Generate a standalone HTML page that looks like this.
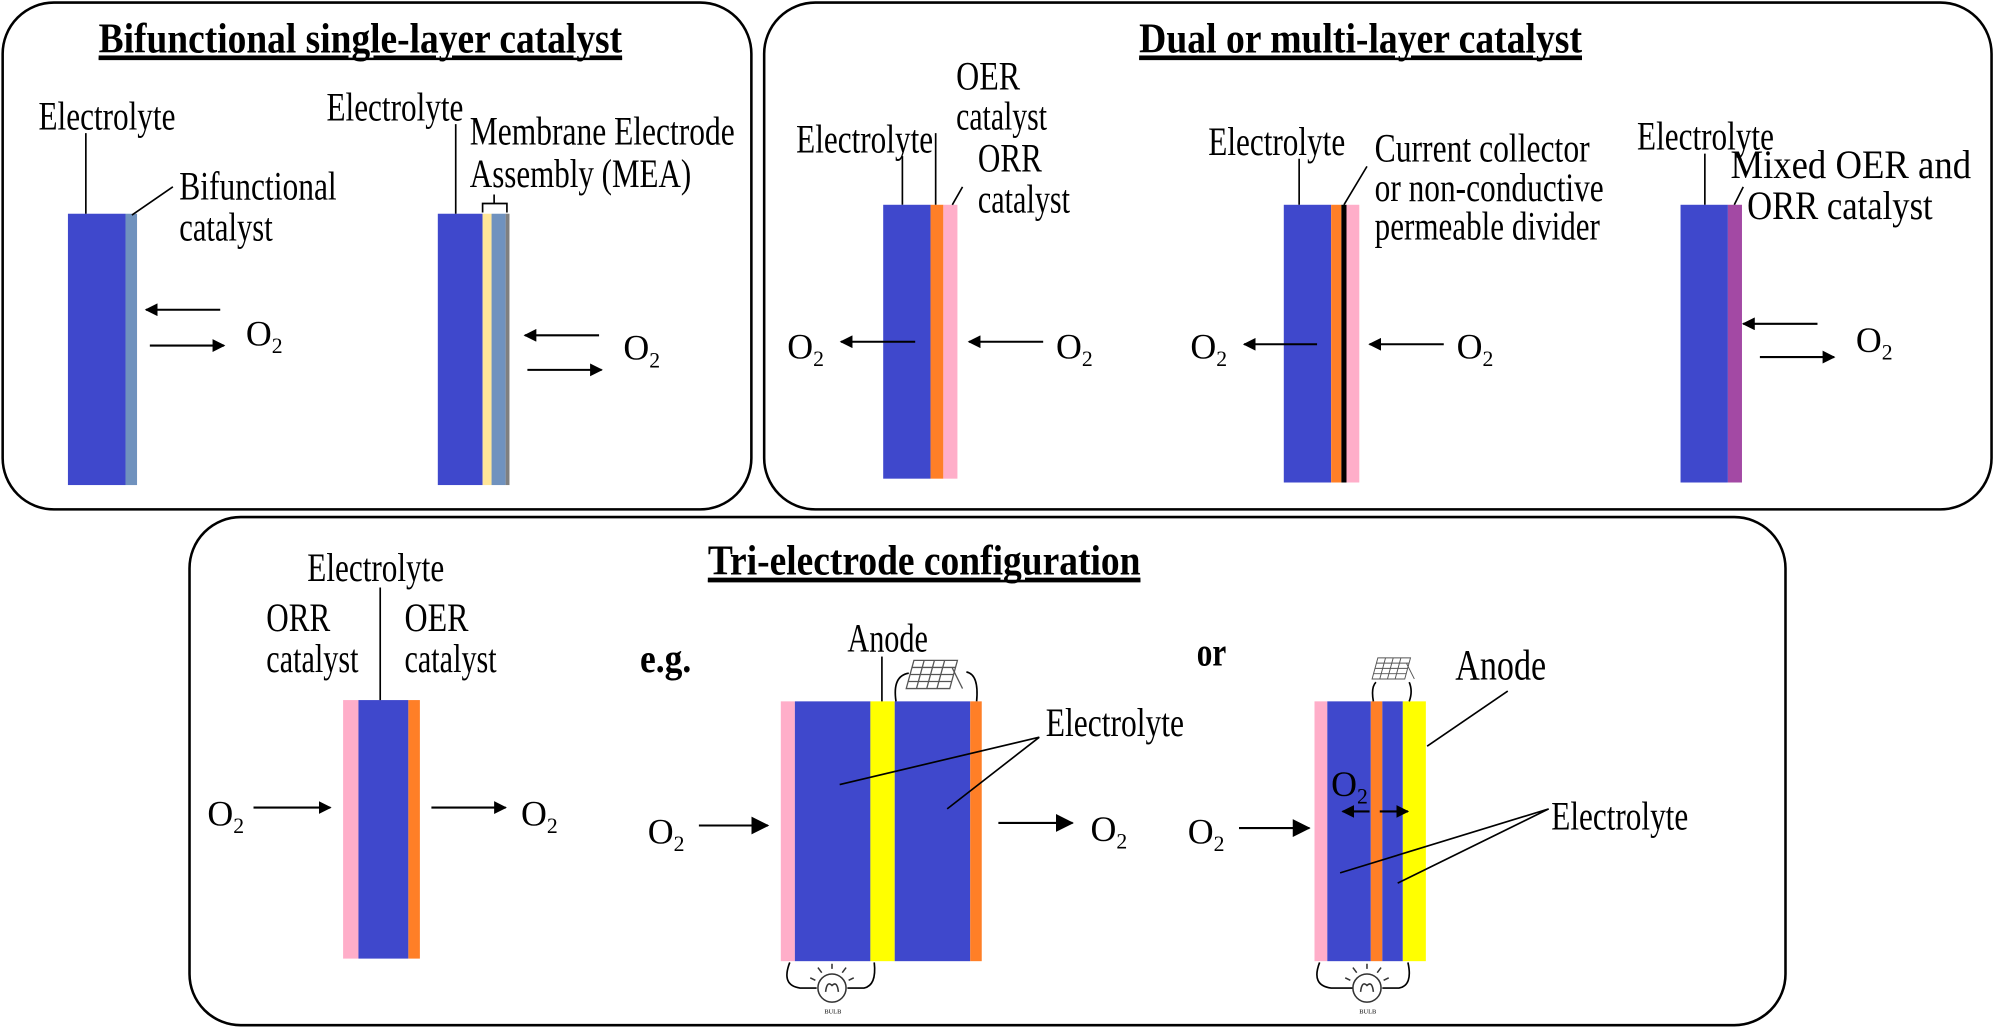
<!DOCTYPE html>
<html><head><meta charset="utf-8"><style>
html,body{margin:0;padding:0;background:#fff}
svg{display:block}
</style></head><body>
<svg width="2007" height="1029" viewBox="0 0 1568 804" xmlns="http://www.w3.org/2000/svg" font-family="Liberation Serif, serif" font-size="31">
<defs>
<marker id="a" markerWidth="10" markerHeight="10" refX="9" refY="5" orient="auto" markerUnits="userSpaceOnUse" viewBox="0 0 10 10"><path d="M0,0 L10,5 L0,10z" fill="#000"/></marker>
<marker id="b" markerWidth="14" markerHeight="14" refX="13" refY="7" orient="auto" markerUnits="userSpaceOnUse" viewBox="0 0 14 14"><path d="M0,0 L14,7 L0,14z" fill="#000"/></marker>
<g id="sol" fill="none" stroke="#555" stroke-width="1">
<path d="M6,0 L40,0 L34,22 L0,22z"/>
<path d="M14,0 L8,22 M22,0 L16,22 M30,0 L24,22 M4.5,5.5 L38.5,5.5 M3,11 L37,11 M1.5,16.5 L35.5,16.5 M36,6 L44,22"/>
</g>
<g id="bulb" fill="none" stroke="#333" stroke-width="1.2">
<circle cx="0" cy="0" r="11"/>
<path d="M-5,3 Q-4,-6 0,-2 Q4,-6 5,3"/>
<path d="M0,-15 L0,-19 M-8,-12 L-11,-16 M8,-12 L11,-16 M-13,-6 L-17,-8 M13,-6 L17,-8"/>
</g>
</defs>
<g fill="none" stroke="#000" stroke-width="2">
<rect x="2" y="2" width="585" height="396" rx="40"/>
<rect x="597" y="2" width="959" height="396" rx="40"/>
<rect x="148" y="404" width="1247" height="397" rx="40"/>
</g>
<g font-weight="bold" font-size="33" text-decoration="underline">
<text x="77" y="41" textLength="409" lengthAdjust="spacingAndGlyphs">Bifunctional single-layer catalyst</text>
<text x="890" y="41" textLength="346" lengthAdjust="spacingAndGlyphs">Dual or multi-layer catalyst</text>
<text x="553" y="449" textLength="338" lengthAdjust="spacingAndGlyphs">Tri-electrode configuration</text>
</g>
<g stroke="#000" stroke-width="2">
<line x1="77" y1="46" x2="486" y2="46"/>
<line x1="890" y1="46" x2="1236" y2="46"/>
<line x1="553" y1="454" x2="891" y2="454"/>
</g>

<!-- panel 1a -->
<rect x="53" y="167" width="45" height="212" fill="#3f48cc"/>
<rect x="98" y="167" width="9" height="212" fill="#7092be"/>
<text x="30" y="101" textLength="107" lengthAdjust="spacingAndGlyphs">Electrolyte</text>
<text x="140" y="156" textLength="123" lengthAdjust="spacingAndGlyphs">Bifunctional</text>
<text x="140" y="188" textLength="73" lengthAdjust="spacingAndGlyphs">catalyst</text>
<g stroke="#000" stroke-width="1.3" fill="none">
<path d="M67,104 L67,167 M103,168 L135,146"/>
</g>
<g stroke="#000" stroke-width="1.6" fill="none">
<path d="M172,242 L114,242" marker-end="url(#a)"/>
<path d="M117,270 L175,270" marker-end="url(#a)"/>
</g>
<text x="192" y="270" font-size="28">O<tspan font-size="17" dy="6">2</tspan></text>

<!-- panel 1b -->
<rect x="342" y="167" width="35" height="212" fill="#3f48cc"/>
<rect x="377" y="167" width="7" height="212" fill="#ffe699"/>
<rect x="384" y="167" width="11" height="212" fill="#7092be"/>
<rect x="395" y="167" width="3" height="212" fill="#7f7f7f"/>
<text x="255" y="94" textLength="107" lengthAdjust="spacingAndGlyphs">Electrolyte</text>
<text x="367" y="113" textLength="207" lengthAdjust="spacingAndGlyphs">Membrane Electrode</text>
<text x="367" y="146" textLength="173" lengthAdjust="spacingAndGlyphs">Assembly (MEA)</text>
<g stroke="#000" stroke-width="1.3" fill="none">
<path d="M356,97 L356,167 M377,166 L377,159 L396,159 L396,166 M386,159 L386,152"/>
</g>
<g stroke="#000" stroke-width="1.6" fill="none">
<path d="M468,262 L410,262" marker-end="url(#a)"/>
<path d="M412,289 L470,289" marker-end="url(#a)"/>
</g>
<text x="487" y="281" font-size="28">O<tspan font-size="17" dy="6">2</tspan></text>

<!-- panel 2a -->
<rect x="690" y="160" width="37" height="214" fill="#3f48cc"/>
<rect x="727" y="160" width="10" height="214" fill="#ff7f27"/>
<rect x="737" y="160" width="11" height="214" fill="#ffaec9"/>
<text x="747" y="70" textLength="50" lengthAdjust="spacingAndGlyphs">OER</text>
<text x="747" y="101" textLength="71" lengthAdjust="spacingAndGlyphs">catalyst</text>
<text x="622" y="119" textLength="107" lengthAdjust="spacingAndGlyphs">Electrolyte</text>
<text x="764" y="134" textLength="50" lengthAdjust="spacingAndGlyphs">ORR</text>
<text x="764" y="166" textLength="72" lengthAdjust="spacingAndGlyphs">catalyst</text>
<g stroke="#000" stroke-width="1.3" fill="none">
<path d="M705,122 L705,160 M731,104 L731,160 M744,160 L752,146"/>
</g>
<g stroke="#000" stroke-width="1.6" fill="none">
<path d="M715,267 L657,267" marker-end="url(#a)"/>
<path d="M815,267 L757,267" marker-end="url(#a)"/>
</g>
<text x="615" y="280" font-size="28">O<tspan font-size="17" dy="6">2</tspan></text>
<text x="825" y="280" font-size="28">O<tspan font-size="17" dy="6">2</tspan></text>

<!-- panel 2b -->
<rect x="1003" y="160" width="37" height="217" fill="#3f48cc"/>
<rect x="1040" y="160" width="8" height="217" fill="#ff7f27"/>
<rect x="1048" y="160" width="4" height="217" fill="#000"/>
<rect x="1052" y="160" width="10" height="217" fill="#ffaec9"/>
<text x="944" y="121" textLength="107" lengthAdjust="spacingAndGlyphs">Electrolyte</text>
<text x="1074" y="126" textLength="168" lengthAdjust="spacingAndGlyphs">Current collector</text>
<text x="1074" y="157" textLength="179" lengthAdjust="spacingAndGlyphs">or non-conductive</text>
<text x="1074" y="187" textLength="176" lengthAdjust="spacingAndGlyphs">permeable divider</text>
<g stroke="#000" stroke-width="1.3" fill="none">
<path d="M1015,124 L1015,160 M1050,160 L1068,130"/>
</g>
<g stroke="#000" stroke-width="1.6" fill="none">
<path d="M1029,269 L972,269" marker-end="url(#a)"/>
<path d="M1128,269 L1070,269" marker-end="url(#a)"/>
</g>
<text x="930" y="280" font-size="28">O<tspan font-size="17" dy="6">2</tspan></text>
<text x="1138" y="280" font-size="28">O<tspan font-size="17" dy="6">2</tspan></text>

<!-- panel 2c -->
<rect x="1313" y="160" width="37" height="217" fill="#3f48cc"/>
<rect x="1350" y="160" width="11" height="217" fill="#a349a4"/>
<text x="1279" y="117" textLength="107" lengthAdjust="spacingAndGlyphs">Electrolyte</text>
<text x="1352" y="139" textLength="188" lengthAdjust="spacingAndGlyphs">Mixed OER and</text>
<text x="1365" y="171" textLength="145" lengthAdjust="spacingAndGlyphs">ORR catalyst</text>
<g stroke="#000" stroke-width="1.3" fill="none">
<path d="M1332,120 L1332,160 M1355,160 L1362,146"/>
</g>
<g stroke="#000" stroke-width="1.6" fill="none">
<path d="M1420,253 L1362,253" marker-end="url(#a)"/>
<path d="M1375,279 L1433,279" marker-end="url(#a)"/>
</g>
<text x="1450" y="275" font-size="28">O<tspan font-size="17" dy="6">2</tspan></text>

<!-- panel 3a -->
<rect x="268" y="547" width="12" height="202" fill="#ffaec9"/>
<rect x="280" y="547" width="39" height="202" fill="#3f48cc"/>
<rect x="319" y="547" width="9" height="202" fill="#ff7f27"/>
<text x="240" y="454" textLength="107" lengthAdjust="spacingAndGlyphs">Electrolyte</text>
<text x="208" y="493" textLength="50" lengthAdjust="spacingAndGlyphs">ORR</text>
<text x="208" y="525" textLength="72" lengthAdjust="spacingAndGlyphs">catalyst</text>
<text x="316" y="493" textLength="50" lengthAdjust="spacingAndGlyphs">OER</text>
<text x="316" y="525" textLength="72" lengthAdjust="spacingAndGlyphs">catalyst</text>
<g stroke="#000" stroke-width="1.3" fill="none">
<path d="M297,459 L297,547"/>
</g>
<g stroke="#000" stroke-width="1.6" fill="none">
<path d="M198,631 L258,631" marker-end="url(#a)"/>
<path d="M337,631 L395,631" marker-end="url(#a)"/>
</g>
<text x="162" y="645" font-size="28">O<tspan font-size="17" dy="6">2</tspan></text>
<text x="407" y="645" font-size="28">O<tspan font-size="17" dy="6">2</tspan></text>
<text x="500" y="525" font-weight="bold" textLength="40" lengthAdjust="spacingAndGlyphs">e.g.</text>

<!-- panel 3b -->
<rect x="610" y="548" width="11" height="203" fill="#ffaec9"/>
<rect x="621" y="548" width="59" height="203" fill="#3f48cc"/>
<rect x="680" y="548" width="19" height="203" fill="#ffff00"/>
<rect x="699" y="548" width="59" height="203" fill="#3f48cc"/>
<rect x="758" y="548" width="9" height="203" fill="#ff7f27"/>
<text x="662" y="509" textLength="63" lengthAdjust="spacingAndGlyphs">Anode</text>
<text x="817" y="575" textLength="108" lengthAdjust="spacingAndGlyphs">Electrolyte</text>
<use href="#sol" x="708" y="516"/>
<g stroke="#000" stroke-width="1.3" fill="none">
<path d="M689,513 L689,548"/>
<path d="M700,548 Q697,528 710,526 M755,525 Q765,527 763,548"/>
<path d="M812,576 L656,613 M812,576 L740,632"/>
<path d="M617,752 Q610,770 625,772 L638,772 M662,772 L675,772 Q685,770 683,752"/>
</g>
<use href="#bulb" x="650" y="772"/>
<text x="644" y="792" style="font-size:5px">BULB</text>
<g stroke="#000" stroke-width="1.6" fill="none">
<path d="M546,645 L600,645" marker-end="url(#b)"/>
<path d="M780,643 L838,643" marker-end="url(#b)"/>
</g>
<text x="506" y="659" font-size="28">O<tspan font-size="17" dy="6">2</tspan></text>
<text x="852" y="657" font-size="28">O<tspan font-size="17" dy="6">2</tspan></text>
<text x="935" y="520" font-weight="bold" textLength="23" lengthAdjust="spacingAndGlyphs">or</text>

<!-- panel 3c -->
<rect x="1027" y="548" width="10" height="203" fill="#ffaec9"/>
<rect x="1037" y="548" width="34" height="203" fill="#3f48cc"/>
<rect x="1071" y="548" width="9" height="203" fill="#ff7f27"/>
<rect x="1080" y="548" width="16" height="203" fill="#3f48cc"/>
<rect x="1096" y="548" width="18" height="203" fill="#ffff00"/>
<use href="#sol" transform="translate(1072 514) scale(0.75)"/>
<text x="1137" y="531" font-size="34" textLength="71" lengthAdjust="spacingAndGlyphs">Anode</text>
<text x="1212" y="648" textLength="107" lengthAdjust="spacingAndGlyphs">Electrolyte</text>
<g stroke="#000" stroke-width="1.3" fill="none">
<path d="M1073,548 Q1071,537 1075,533 M1101,533 Q1104,540 1101,548"/>
<path d="M1178,540 L1115,583"/>
<path d="M1210,632 L1047,682 M1210,632 L1092,690"/>
<path d="M1031,752 Q1024,770 1040,772 L1057,772 M1080,772 L1093,772 Q1104,770 1100,752"/>
</g>
<use href="#bulb" x="1068" y="772"/>
<text x="1062" y="792" style="font-size:5px">BULB</text>
<g stroke="#000" stroke-width="1.6" fill="none">
<path d="M968,647 L1023,647" marker-end="url(#b)"/>
<path d="M1070,634 L1049,634" marker-end="url(#a)"/>
<path d="M1078,634 L1100,634" marker-end="url(#a)"/>
</g>
<text x="1040" y="622" font-size="28">O<tspan font-size="17" dy="6">2</tspan></text>
<text x="928" y="659" font-size="28">O<tspan font-size="17" dy="6">2</tspan></text>
</svg>
</body></html>
